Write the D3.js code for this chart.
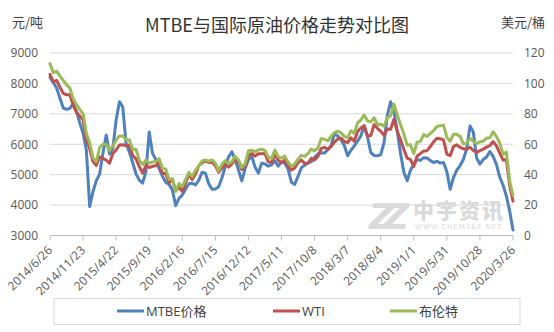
<!DOCTYPE html>
<html>
<head>
<meta charset="utf-8">
<script src="https://cdn.jsdelivr.net/npm/d3@7"></script>
<style>
  body { margin: 0; background: #fff; }
  svg { display: block; }
</style>
</head>
<body>
<svg id="chart" width="554" height="332"></svg>
<script>
// Sampling: one observation every 15 days starting 2014/6/26
const startDate = "2014/6/26";
const stepDays = 15;

// x-axis tick labels (every 150 days)
const tickLabels = ["2014/6/26","2014/11/23","2015/4/22","2015/9/19","2016/2/16","2016/7/15",
  "2016/12/12","2017/5/11","2017/10/8","2018/3/7","2018/8/4","2019/1/1","2019/5/31",
  "2019/10/28","2020/3/26"];

// MTBE price, 元/吨 (left axis)
const mtbe = [8200,8030,7850,7520,7190,7150,7180,7330,7080,6700,6370,
  5800,3950,4450,4800,5020,5700,6300,5680,5850,6800,
  7400,7230,6030,5750,5400,5030,4820,4720,5100,6400,
  5700,5500,5200,4950,4750,4680,4500,3980,4220,4330,
  4530,4700,4720,4660,4820,5080,5050,4700,4520,4530,
  4600,4900,5270,5580,5750,5500,5150,4800,5200,5500,
  5600,5250,5050,5380,5350,5280,5320,5460,5280,5420,
  5380,5180,4750,4680,4950,5230,5310,5390,5420,5570,
  5680,5720,5710,5820,5960,6350,6270,6150,5960,5620,
  5800,5950,6100,6280,6600,6250,5720,5630,5620,5660,
  6050,6950,7400,7080,6430,5700,5080,4800,5150,5330,
  5500,5470,5560,5550,5460,5400,5440,5380,5400,5100,
  4520,4900,5150,5300,5500,5850,6600,6400,5550,5350,
  5500,5580,5760,5600,5330,4920,4650,4300,3800,3180];

// WTI, 美元/桶 (right axis)
const wti = [106,101,102,97.5,93.5,92.5,92.5,85.8,81,78.6,76,
  63,57,48.6,46,51.7,50.8,49.6,47.5,53.9,56.2,
  59.5,59.7,59.1,59.6,52.5,50.4,45.2,41,46,44.7,
  45.5,45.9,47.9,40.7,41,34.7,37,29.4,31.6,29,
  34.7,40.2,36.8,40.4,45.9,47.7,49.1,48,48.3,45.9,
  41.6,44.5,46.9,44.9,47,50.4,48.7,43.4,46,52.8,
  53.9,52.2,53.8,53.8,54,48.4,47.9,53.4,49.6,47.8,
  49.8,45.8,43,44.4,47.9,49.6,47.4,47.5,50.7,49.6,
  52,57.2,58,56.7,58.5,61.4,63.4,64,61.8,61.1,
  64.3,62,68.4,70.7,72.2,65.5,65.7,72.9,70.5,68.5,
  65.9,70,69.9,76.4,68.6,63,56.5,50.9,49.9,45.4,
  52.3,53.8,55.6,55.8,58.5,61.6,64,63.6,62.9,53.5,
  52.5,58.5,59.6,58,57,56.7,58,55.9,54.7,55.8,
  56.8,58.1,59.2,61.7,59,54.2,49.6,49.9,32.9,22.6];

// Brent, 美元/桶 (right axis)
const brent = [113,107,108,105,102,99,97,90,86,83,80,
  67,61,51,48.5,57.8,60,60,55.9,59,62.7,
  65.5,65.4,63,63,56.5,56.7,49.6,46.6,49.6,47.5,
  48.4,48.6,50.5,44.1,43.8,36.9,37.3,28.9,34.2,32.2,
  36.9,41.5,38.7,43,45.8,49,49.7,48.9,49.7,47.6,
  42.5,46.9,49.3,47.1,48.7,52,49.7,44.8,47.2,55.7,
  56.1,55,56.2,56.7,56,51.4,50.7,56.2,51.8,50.8,
  52.2,48.2,45.5,46.9,50.2,52.7,52,53.8,56.9,55.6,
  57.4,63.7,63.3,62.2,65.2,67.6,68.6,67.6,65.2,64.3,
  68.9,67.1,74,76,79.2,75.4,74.7,77.4,73,73.2,
  71.8,77.6,78.7,86.3,79.3,72.8,66.8,59.5,59.6,53.8,
  61.3,61.9,66.3,65.1,67.2,69,71.7,72.1,72.6,64.5,
  62,66.5,66.5,65.2,60.3,60.5,64,61.9,60.5,61.6,
  62,64,64.2,68.2,65,60.7,53.3,55,35.8,26.3];

const seriesNames = ["MTBE价格", "WTI", "布伦特"];
const seriesColors = ["#4F81BD", "#C0504D", "#9BBB59"];
const leftTicks = [3000, 4000, 5000, 6000, 7000, 8000, 9000];
const rightTicks = [0, 20, 40, 60, 80, 100, 120];

const FONT = "'Open Sans','Noto Sans CJK SC',sans-serif";
const CJK = "'Noto Sans CJK SC','Noto Sans',sans-serif";

const parseDate = s => { const [y, m, d] = s.split("/").map(Number); return new Date(Date.UTC(y, m - 1, d)); };
const t0 = parseDate(startDate);
const dates = mtbe.map((_, i) => d3.utcDay.offset(t0, i * stepDays));
const tickDates = tickLabels.map(parseDate);

const plot = { left: 50, right: 513, top: 53, bottom: 235.5 };

const x = d3.scaleUtc()
  .domain([tickDates[0], tickDates[tickDates.length - 1]])
  .range([plot.left, plot.right]);
const yL = d3.scaleLinear().domain([3000, 9000]).range([plot.bottom, plot.top]);
const yR = d3.scaleLinear().domain([0, 120]).range([plot.bottom, plot.top]);

const svg = d3.select("#chart");
svg.append("rect").attr("width", 554).attr("height", 332).attr("fill", "#fff");

// Title and axis unit captions
svg.append("text").attr("x", 277).attr("y", 32).attr("text-anchor", "middle")
  .attr("font-family", CJK).attr("font-size", 18).attr("fill", "#333")
  .text("MTBE与国际原油价格走势对比图");
svg.append("text").attr("x", 12).attr("y", 27)
  .attr("font-family", CJK).attr("font-size", 13).attr("fill", "#404040").text("元/吨");
svg.append("text").attr("x", 545).attr("y", 27).attr("text-anchor", "end")
  .attr("font-family", CJK).attr("font-size", 13).attr("fill", "#404040").text("美元/桶");

// Horizontal gridlines
svg.append("g").selectAll("line").data(leftTicks.slice(1)).join("line")
  .attr("x1", plot.left).attr("x2", plot.right)
  .attr("y1", d => yL(d)).attr("y2", d => yL(d))
  .attr("stroke", "#d9d9d9").attr("stroke-width", 1);

// Left axis labels
const gL = svg.append("g").attr("transform", `translate(${plot.left - 12},0)`)
  .call(d3.axisLeft(yL).tickValues(leftTicks).tickSize(0).tickPadding(0).tickFormat(d3.format("d")));
gL.select(".domain").remove();
gL.selectAll("text").attr("font-family", FONT).attr("font-size", 12).attr("fill", "#595959");

// Right axis labels
const gR = svg.append("g").attr("transform", `translate(${plot.right + 11},0)`)
  .call(d3.axisRight(yR).tickValues(rightTicks).tickSize(0).tickPadding(0).tickFormat(d3.format("d")));
gR.select(".domain").remove();
gR.selectAll("text").attr("font-family", FONT).attr("font-size", 12).attr("fill", "#595959");

// Bottom axis line, ticks and rotated date labels
svg.append("line").attr("x1", plot.left).attr("x2", plot.right)
  .attr("y1", plot.bottom).attr("y2", plot.bottom).attr("stroke", "#bfbfbf");
svg.append("g").selectAll("line").data(tickDates).join("line")
  .attr("x1", d => x(d)).attr("x2", d => x(d))
  .attr("y1", plot.bottom).attr("y2", plot.bottom + 5)
  .attr("stroke", "#bfbfbf");
svg.append("g").selectAll("text").data(tickLabels).join("text")
  .attr("transform", (d, i) => `translate(${x(tickDates[i]) + 3},251) rotate(-45)`)
  .attr("text-anchor", "end")
  .attr("font-family", FONT).attr("font-size", 12).attr("fill", "#595959")
  .text(d => d);

// Publisher watermark
const wm = svg.append("g").attr("fill", "#dadada");
wm.append("text").attr("x", 369).attr("y", 229)
  .attr("font-family", "'DejaVu Sans',sans-serif").attr("font-weight", "bold")
  .attr("font-style", "italic").attr("font-size", 36).attr("letter-spacing", -12).text("ZZ");
wm.append("text").attr("x", 413).attr("y", 218)
  .attr("font-family", CJK).attr("font-weight", 900).attr("font-size", 21)
  .attr("letter-spacing", 2).text("中宇资讯");
wm.append("text").attr("x", 415).attr("y", 229)
  .attr("font-family", "'DejaVu Sans',sans-serif").attr("font-size", 7)
  .attr("letter-spacing", 1).text("WWW.CHEM365.NET");

// Series lines: MTBE on the left scale, crude benchmarks on the right scale
const series = [
  { values: mtbe, y: yL },
  { values: wti, y: yR },
  { values: brent, y: yR }
];
series.forEach((s, k) => {
  const line = d3.line().x((d, i) => x(dates[i])).y(d => s.y(d)).curve(d3.curveLinear);
  svg.append("path").datum(s.values)
    .attr("d", line)
    .attr("fill", "none")
    .attr("stroke", seriesColors[k])
    .attr("stroke-width", 3)
    .attr("stroke-linejoin", "round")
    .attr("stroke-linecap", "round");
});

// Legend
const legend = svg.append("g");
legend.append("rect").attr("x", 54).attr("y", 298.5).attr("width", 466).attr("height", 26)
  .attr("fill", "#fff").attr("stroke", "#d9d9d9");
const legendX = [117, 273, 390];
seriesNames.forEach((name, k) => {
  legend.append("line").attr("x1", legendX[k]).attr("x2", legendX[k] + 27)
    .attr("y1", 311).attr("y2", 311)
    .attr("stroke", seriesColors[k]).attr("stroke-width", 3);
  legend.append("text").attr("x", legendX[k] + 29).attr("y", 316)
    .attr("font-family", FONT).attr("font-size", 13).attr("fill", "#404040")
    .text(name);
});
</script>
</body>
</html>
